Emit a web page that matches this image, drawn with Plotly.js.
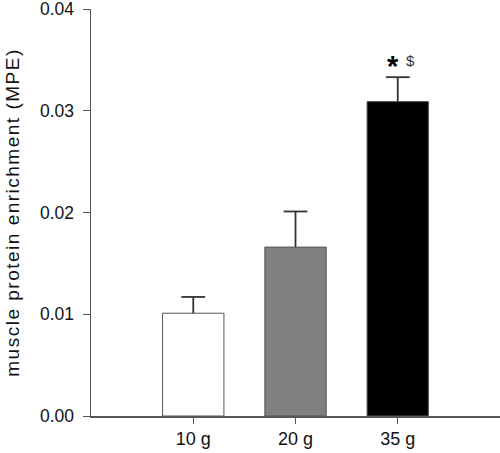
<!DOCTYPE html>
<html>
<head>
<meta charset="utf-8">
<script src="https://cdn.plot.ly/plotly-3.0.1.min.js"></script>
<style>
  html, body { margin: 0; padding: 0; background: #fff; }
  #chart { width: 500px; height: 453px; }
</style>
</head>
<body>
<div id="chart"></div>
<script>
// protein dose groups and muscle protein enrichment (mean + SE)
var doses = ['10 g', '20 g', '35 g'];
var mpe = [0.0101, 0.0166, 0.0309];
var mpeErr = [0.0016, 0.0035, 0.0024];
var barColors = ['#ffffff', '#808080', '#000000'];
var yTicks = [0, 0.01, 0.02, 0.03, 0.04];

// tops of the error bars, built from the data
var errTop = mpe.map(function (v, i) { return v + mpeErr[i]; });

var bars = {
  x: doses,
  y: mpe,
  type: 'bar',
  width: 0.6,
  marker: {
    color: barColors,
    line: { color: '#555', width: 1 }
  },
  hoverinfo: 'none'
};

// upper error bars only: stem down to bar top, cap drawn as a marker
var errBars = {
  x: doses,
  y: errTop,
  type: 'scatter',
  mode: 'markers',
  marker: { symbol: 'line-ew', size: 17, line: { color: '#333', width: 1.8 } },
  error_y: {
    type: 'data',
    symmetric: false,
    array: [0, 0, 0],
    arrayminus: mpeErr,
    color: '#333',
    thickness: 1.8,
    width: 0
  },
  hoverinfo: 'none'
};

var layout = {
  width: 500,
  height: 453,
  margin: { l: 91, r: 0, t: 9, b: 37 },
  paper_bgcolor: '#fff',
  plot_bgcolor: '#fff',
  font: { family: 'Liberation Sans, Arial, sans-serif', color: '#111' },
  showlegend: false,
  xaxis: {
    type: 'category',
    range: [-1, 3],
    showline: true,
    linecolor: '#555',
    linewidth: 1.5,
    ticks: 'outside',
    ticklen: 6,
    tickcolor: '#555',
    tickfont: { size: 18 },
    showgrid: false,
    zeroline: false,
    fixedrange: true
  },
  yaxis: {
    range: [0, 0.04],
    tickvals: yTicks,
    tickformat: '.2f',
    showline: true,
    linecolor: '#555',
    linewidth: 1.5,
    ticks: 'outside',
    ticklen: 7,
    tickcolor: '#555',
    ticklabelstandoff: 5,
    ticklabeloverflow: 'allow',
    tickfont: { size: 17.5 },
    showgrid: false,
    zeroline: false,
    automargin: false,
    title: {
      text: '<span style="letter-spacing:1.5px">muscle protein enrichment (MPE)</span>',
      font: { size: 19 },
      standoff: 15
    }
  },
  annotations: [
    {
      x: doses[2], y: errTop[2], xref: 'x', yref: 'y',
      text: '<b>*</b>', showarrow: false, font: { size: 29, color: '#000' },
      xshift: -5, yshift: -7, yanchor: 'bottom'
    },
    {
      x: doses[2], y: errTop[2], xref: 'x', yref: 'y',
      text: '$', showarrow: false, font: { size: 15, color: '#333' },
      xshift: 13, yshift: 6, yanchor: 'bottom'
    }
  ]
};

Plotly.newPlot('chart', [bars, errBars], layout, { staticPlot: true, displayModeBar: false });
</script>
</body>
</html>
